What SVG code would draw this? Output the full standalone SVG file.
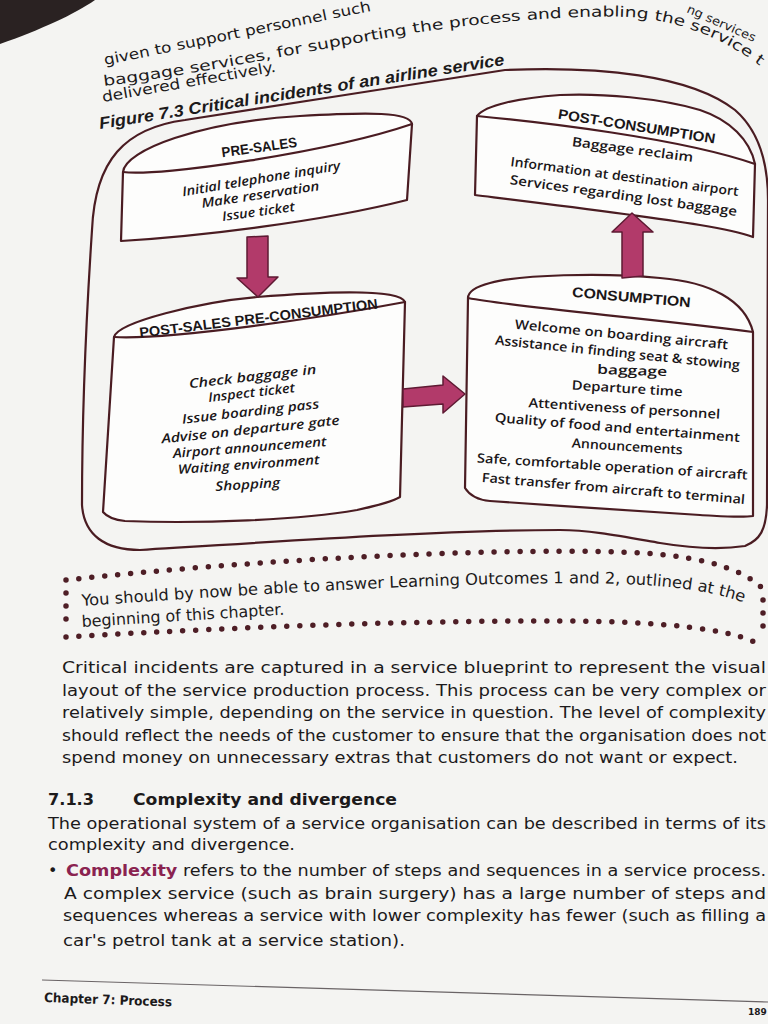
<svg xmlns="http://www.w3.org/2000/svg" width="768" height="1024" viewBox="0 0 768 1024">
<defs>
<style>
.ln{fill:none;stroke:#4a1c22;stroke-width:2.2;stroke-linejoin:round;stroke-linecap:round}
.box{fill:#fdfdfc;stroke:#4a1c22;stroke-width:2.2;stroke-linejoin:round}
.arr{fill:#b23a6a;stroke:#5e1a33;stroke-width:1.5;stroke-linejoin:round}
.hd{font-family:"Liberation Sans",Arial,sans-serif;font-weight:bold;font-size:14px;fill:#1a1618;text-anchor:middle}
.it{font-family:"Open Sans","Liberation Sans",sans-serif;font-style:italic;font-weight:600;font-size:13px;fill:#1a1618;text-anchor:middle}
.up{font-family:"Open Sans","Liberation Sans",sans-serif;font-weight:600;font-size:13px;fill:#1a1618;text-anchor:middle}
.body{font-family:"DejaVu Sans","Liberation Sans",sans-serif;font-size:16px;fill:#1c1a1b}
.top{font-family:"DejaVu Sans","Liberation Sans",sans-serif;font-size:14.5px;fill:#1c1a1b}
.cap{font-family:"Liberation Sans",Arial,sans-serif;font-size:16.5px;font-weight:bold;font-style:italic;fill:#1c1a1b}
.dots{fill:none;stroke:#4e1e26;stroke-width:5.5;stroke-linecap:round;stroke-dasharray:0 13}
</style>
<path id="p2" d="M104,86 C200,74 300,52 420,32 C520,18 600,14 640,18 C690,24 730,42 765,70"/>
<path id="p3" d="M82,606 C250,594 480,580 620,584 C690,586 735,596 766,612"/>
</defs>
<rect x="0" y="0" width="768" height="1024" fill="#f4f4f2"/>
<path d="M0,0 L95,0 C75,14 40,30 0,44 Z" fill="#2a2222"/>

<!-- page text above figure -->
<g id="intro">
<text class="top" x="105" y="65" transform="rotate(-11.5 105 65)" textLength="272" lengthAdjust="spacingAndGlyphs">given to support personnel such</text>
<text class="top" x="686" y="12" style="font-size:12px" transform="rotate(24 686 12)" textLength="74" lengthAdjust="spacingAndGlyphs">ng services</text>
<text class="top"><textPath href="#p2" textLength="672" lengthAdjust="spacingAndGlyphs">baggage services, for supporting the process and enabling the service t</textPath></text>
<text class="top" x="103" y="102" transform="rotate(-10 103 102)" textLength="176" lengthAdjust="spacingAndGlyphs">delivered effectively.</text>
</g>

<g id="caption">
<text class="cap" x="100" y="129" transform="rotate(-9 100 129)" textLength="410" lengthAdjust="spacingAndGlyphs">Figure 7.3  Critical incidents of an airline service</text>
</g>

<g id="frame">
<path class="ln" d="M505,70 C600,66 690,75 735,110 C758,130 768,160 768,200 L767,505 C766,530 760,540 745,546 C720,550 690,548 660,543 C620,536 590,530 560,530 C450,530 300,540 140,550 C105,550 84,535 82,505 C82,420 86,320 92,230 C95,160 125,128 185,120 C290,104 400,86 505,70 Z"/>
</g>

<g id="pre-sales">
<path class="box" d="M123,172 L121,241 C200,236 320,222 407,200 L412,124 C410,112 370,112 300,116 C200,122 125,150 123,172 Z"/>
<path class="ln" d="M123,172 C160,177 330,152 412,124"/>
<text class="hd" x="260" y="152" transform="rotate(-8 260 152)" textLength="76" lengthAdjust="spacingAndGlyphs">PRE-SALES</text>
<text class="it" x="262" y="183" transform="rotate(-9.5 262 183)" textLength="160" lengthAdjust="spacingAndGlyphs">Initial telephone inquiry</text>
<text class="it" x="261" y="199" transform="rotate(-8.5 261 199)" textLength="119" lengthAdjust="spacingAndGlyphs">Make reservation</text>
<text class="it" x="259" y="216" transform="rotate(-8 259 216)" textLength="73" lengthAdjust="spacingAndGlyphs">Issue ticket</text>
</g>

<g id="post-sales-pre-consumption">
<path class="box" d="M114,337 L103,512 C108,518 115,520 125,521 C200,524 300,520 357,510 C380,505 395,500 400,497 L405,302 C400,289 330,291 257,297 C200,302 118,322 114,337 Z"/>
<path class="ln" d="M114,337 C170,340 320,318 405,302"/>
<text class="hd" x="259" y="323" transform="rotate(-7 259 323)" textLength="240" lengthAdjust="spacingAndGlyphs">POST-SALES PRE-CONSUMPTION</text>
<text class="it" x="253" y="381" transform="rotate(-6.5 253 381)" textLength="128" lengthAdjust="spacingAndGlyphs">Check baggage in</text>
<text class="it" x="252" y="397" transform="rotate(-6.5 252 397)" textLength="87" lengthAdjust="spacingAndGlyphs">Inspect ticket</text>
<text class="it" x="251" y="416" transform="rotate(-6.5 251 416)" textLength="138" lengthAdjust="spacingAndGlyphs">Issue boarding pass</text>
<text class="it" x="251" y="434" transform="rotate(-6 251 434)" textLength="179" lengthAdjust="spacingAndGlyphs">Advise on departure gate</text>
<text class="it" x="250" y="452" transform="rotate(-4.5 250 452)" textLength="154" lengthAdjust="spacingAndGlyphs">Airport announcement</text>
<text class="it" x="249" y="469" transform="rotate(-4 249 469)" textLength="142" lengthAdjust="spacingAndGlyphs">Waiting environment</text>
<text class="it" x="248" y="489" transform="rotate(-3.5 248 489)" textLength="65" lengthAdjust="spacingAndGlyphs">Shopping</text>
</g>

<g id="consumption">
<path class="box" d="M468,298 L465,488 C470,496 478,500 490,501 C560,506 650,512 700,515 C720,516 740,518 753,516 L753,332 C745,300 710,282 660,278 C600,272 520,275 490,283 C475,287 468,292 468,298 Z"/>
<path class="ln" d="M468,298 C520,308 650,318 753,332"/>
<text class="hd" x="631" y="302" transform="rotate(5 631 302)" textLength="119" lengthAdjust="spacingAndGlyphs">CONSUMPTION</text>
<text class="up" x="621" y="339" transform="rotate(5.5 621 339)" textLength="214" lengthAdjust="spacingAndGlyphs">Welcome on boarding aircraft</text>
<text class="up" x="617" y="357" transform="rotate(5.8 617 357)" textLength="246" lengthAdjust="spacingAndGlyphs">Assistance in finding seat &amp; stowing</text>
<text class="up" x="632" y="375" transform="rotate(2 632 375)" textLength="70" lengthAdjust="spacingAndGlyphs">baggage</text>
<text class="up" x="627" y="393" transform="rotate(3.5 627 393)" textLength="111" lengthAdjust="spacingAndGlyphs">Departure time</text>
<text class="up" x="624" y="413" transform="rotate(3.5 624 413)" textLength="192" lengthAdjust="spacingAndGlyphs">Attentiveness of personnel</text>
<text class="up" x="617" y="432" transform="rotate(4.7 617 432)" textLength="246" lengthAdjust="spacingAndGlyphs">Quality of food and entertainment</text>
<text class="up" x="627" y="451" transform="rotate(3.6 627 451)" textLength="111" lengthAdjust="spacingAndGlyphs">Announcements</text>
<text class="up" x="612" y="471" transform="rotate(3.6 612 471)" textLength="271" lengthAdjust="spacingAndGlyphs">Safe, comfortable operation of aircraft</text>
<text class="up" x="613" y="493" transform="rotate(4.8 613 493)" textLength="264" lengthAdjust="spacingAndGlyphs">Fast transfer from aircraft to terminal</text>
</g>

<g id="post-consumption">
<path class="box" d="M477,116 L475,195 C540,203 640,215 700,225 C725,229 745,234 753,237 L755,164 C750,140 730,120 700,110 C660,98 600,93 560,95 C520,98 485,105 477,116 Z"/>
<path class="ln" d="M477,116 C540,122 680,138 755,164"/>
<text class="hd" x="636" y="131" transform="rotate(9 636 131)" textLength="159" lengthAdjust="spacingAndGlyphs">POST-CONSUMPTION</text>
<text class="up" x="632" y="154" transform="rotate(7.5 632 154)" textLength="122" lengthAdjust="spacingAndGlyphs">Baggage reclaim</text>
<text class="up" x="624" y="181" transform="rotate(7.5 624 181)" textLength="230" lengthAdjust="spacingAndGlyphs">Information at destination airport</text>
<text class="up" x="623" y="200" transform="rotate(8 623 200)" textLength="229" lengthAdjust="spacingAndGlyphs">Services regarding lost baggage</text>
</g>

<g id="connectors">
<path class="arr" d="M247,237 L268,236 L268,277 L278,277 L258,297 L237,278 L247,278 Z"/>
<path class="arr" d="M403,389 L443,385 L443,376 L465,394 L443,413 L443,404 L403,407 Z"/>
<path class="arr" d="M622,278 L622,232 L612,232 L632,213 L653,232 L643,232 L643,276 Z"/>
</g>

<g id="learning-outcomes">
<path class="dots" d="M66,580 C250,560 480,548 620,552 C690,554 740,566 762,588"/>
<path class="dots" d="M66,637 C250,626 480,618 620,622 C690,625 740,632 762,646"/>
<path class="dots" d="M66,593 L66,630"/>
<path class="dots" d="M763,600 L763,634"/>
<text class="body"><textPath href="#p3" textLength="664" lengthAdjust="spacingAndGlyphs">You should by now be able to answer Learning Outcomes 1 and 2, outlined at the</textPath></text>
<text class="body" x="82" y="627" transform="rotate(-3.5 82 627)" textLength="203" lengthAdjust="spacingAndGlyphs">beginning of this chapter.</text>
</g>

<g id="paragraph">
<text class="body" x="62" y="673" textLength="704" lengthAdjust="spacingAndGlyphs">Critical incidents are captured in a service blueprint to represent the visual</text>
<text class="body" x="62" y="696" textLength="704" lengthAdjust="spacingAndGlyphs">layout of the service production process. This process can be very complex or</text>
<text class="body" x="62" y="718" textLength="704" lengthAdjust="spacingAndGlyphs">relatively simple, depending on the service in question. The level of complexity</text>
<text class="body" x="62" y="741" textLength="704" lengthAdjust="spacingAndGlyphs">should reflect the needs of the customer to ensure that the organisation does not</text>
<text class="body" x="62" y="763" textLength="676" lengthAdjust="spacingAndGlyphs">spend money on unnecessary extras that customers do not want or expect.</text>
</g>

<g id="section">
<text class="body" x="48" y="805" font-weight="bold" textLength="46" lengthAdjust="spacingAndGlyphs">7.1.3</text>
<text class="body" x="133" y="805" font-weight="bold" textLength="264" lengthAdjust="spacingAndGlyphs">Complexity and divergence</text>
<text class="body" x="48" y="829" textLength="718" lengthAdjust="spacingAndGlyphs">The operational system of a service organisation can be described in terms of its</text>
<text class="body" x="48" y="850" textLength="247" lengthAdjust="spacingAndGlyphs">complexity and divergence.</text>
<text class="body" x="48" y="876">•</text>
<text class="body" x="66" y="876" textLength="700" lengthAdjust="spacingAndGlyphs"><tspan font-weight="bold" fill="#8a2350">Complexity</tspan> refers to the number of steps and sequences in a service process.</text>
<text class="body" x="64" y="899" textLength="702" lengthAdjust="spacingAndGlyphs">A complex service (such as brain surgery) has a large number of steps and</text>
<text class="body" x="63" y="921" textLength="703" lengthAdjust="spacingAndGlyphs">sequences whereas a service with lower complexity has fewer (such as filling a</text>
<text class="body" x="63" y="946" textLength="342" lengthAdjust="spacingAndGlyphs">car's petrol tank at a service station).</text>
</g>

<g id="footer">
<path d="M42,980 C300,990 550,997 768,1002" fill="none" stroke="#6a6466" stroke-width="1.2"/>
<text class="body" x="44" y="1002" style="font-size:13px" font-weight="bold" transform="rotate(2 44 1002)" textLength="128" lengthAdjust="spacingAndGlyphs">Chapter 7: Process</text>
<text class="body" x="748" y="1015" style="font-size:9px" font-weight="bold">189</text>
</g>
</svg>
